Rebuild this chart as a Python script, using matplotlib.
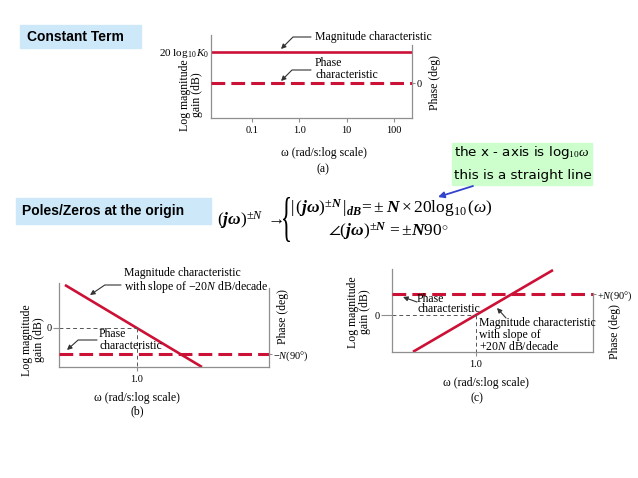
import matplotlib.pyplot as plt
from matplotlib.textpath import TextPath
from matplotlib.patches import PathPatch
from matplotlib.font_manager import FontProperties
from matplotlib.transforms import Affine2D

plt.rcParams['font.family'] = 'Liberation Serif'
plt.rcParams['mathtext.fontset'] = 'custom'
plt.rcParams['mathtext.rm'] = 'Liberation Serif'
plt.rcParams['mathtext.it'] = 'Liberation Serif:italic'
plt.rcParams['mathtext.bf'] = 'Liberation Serif:bold:italic'

# --- data ---
# (a) constant term
a_w = [0.0135, 240]
a_mag = [8, 8]
a_phase = [0, 0]
a_ticks = [0.1, 1, 10, 100]
a_ticklabels = ['0.1', '1.0', '10', '100']

# (b) poles at the origin (slope -20N dB/decade)
b_w = [0.063, 12.1]
b_mag = [23.9, -21.7]
b_phase_w = [0.05, 158]
b_phase = [-90, -90]

# (c) zeros at the origin (slope +20N dB/decade)
c_w = [0.089, 19.2]
c_mag = [-21.0, 25.7]
c_phase_w = [0.04, 89]
c_phase = [90, 90]

W, H = 638, 478
RED = '#cc1136'
GREY = '#8f8f8f'
FS = 8.5
TFS = 7.5

fig = plt.figure(figsize=(W / 100, H / 100), dpi=100)
PIX = Affine2D().scale(1 / W, 1 / H) + fig.transFigure


def box(l, t, r, b):
    return [l / W, 1 - b / H, (r - l) / W, (b - t) / H]


def ptext(x, y, s, **kw):
    fig.text(x / W, 1 - y / H, s, **kw)


def fpx(x, y):
    return (x, H - y)


def leader(tail, head, conn):
    fig.add_artist(plt.Annotation('', xy=fpx(*head), xytext=fpx(*tail),
                                  xycoords='figure pixels', textcoords='figure pixels',
                                  arrowprops=dict(arrowstyle='-|>', connectionstyle=conn,
                                                  color='#333333', lw=0.8, shrinkA=0,
                                                  shrinkB=0, mutation_scale=7)))


def setup(ax, tw, right_top):
    for s in ['top', 'right']:
        ax.spines[s].set_visible(False)
    for s in ['top', 'left', 'bottom']:
        tw.spines[s].set_visible(False)
    for sp in [ax.spines['left'], ax.spines['bottom'], tw.spines['right']]:
        sp.set_color(GREY)
        sp.set_linewidth(0.9)
    lo = tw.get_ylim()[0]
    tw.spines['right'].set_bounds(lo, right_top)
    ax.tick_params(axis='x', which='both', direction='out', length=3, width=0.8,
                   color=GREY, labelsize=TFS, pad=3)
    ax.tick_params(axis='x', which='minor', length=0)
    tw.tick_params(axis='y', length=2, width=0.8, color=GREY, labelsize=TFS, pad=1)


# ---------------- (a) ----------------
ax = fig.add_axes(box(211, 35, 412, 118))
ax.set_xscale('log')
ax.set_xlim(a_w)
ax.set_ylim(0, 10)
ax.plot(a_w, a_mag, color=RED, lw=1.9, solid_capstyle='butt')
ax.set_xticks(a_ticks)
ax.set_xticklabels(a_ticklabels)
ax.set_yticks([8])
ax.set_yticklabels([r'$20\ \log_{10}K_0$'])
ax.tick_params(axis='y', length=0, labelsize=8, pad=1)
tw = ax.twinx()
tw.set_ylim(-50, 70)
tw.plot(a_w, a_phase, color=RED, lw=2.2, ls=(0, (4.5, 2)))
tw.set_yticks([0])
tw.set_yticklabels(['0'])
setup(ax, tw, 55)

ptext(191, 95, 'Log magnitude\ngain (dB)', rotation=90, ha='center', va='center',
      fontsize=FS, multialignment='center', linespacing=0.95)
ptext(435, 83, 'Phase (deg)', rotation=90, ha='center', va='center', fontsize=FS)
ptext(324, 153, 'ω (rad/s:log scale)', ha='center', va='center', fontsize=FS)
ptext(323, 169, '(a)', ha='center', va='center', fontsize=FS)
ptext(315, 37, 'Magnitude characteristic', ha='left', va='center', fontsize=FS)
ptext(315, 69, 'Phase\ncharacteristic', ha='left', va='center', fontsize=FS,
      linespacing=0.95)
leader((311, 37), (281, 49), 'angle,angleA=0,angleB=45,rad=0')
leader((311, 70), (281, 81), 'angle,angleA=0,angleB=45,rad=0')

# ---------------- (b) ----------------
ax = fig.add_axes(box(59, 283, 269, 367))
ax.set_xscale('log')
ax.set_xlim(10 ** -1.3, 10 ** 2.2)
ax.set_ylim(-21.7, 25)
ax.plot(b_w, b_mag, color=RED, lw=1.9, solid_capstyle='butt')
ax.plot([ax.get_xlim()[0], 1], [0, 0], color='#555555', lw=0.7, ls=(0, (4, 3)))
ax.plot([1, 1], [0, -21.7], color='#555555', lw=0.7, ls=(0, (4, 3)), clip_on=False)
ax.set_xticks([1])
ax.set_xticklabels(['1.0'])
ax.set_yticks([0])
ax.set_yticklabels(['0'])
ax.tick_params(axis='y', length=4, width=0.8, color=GREY, labelsize=TFS, pad=1)
tw = ax.twinx()
tw.set_ylim(-110, 20)
tw.plot(b_phase_w, b_phase, color=RED, lw=2.2, ls=(0, (4.5, 2)))
tw.set_yticks([-90])
tw.set_yticklabels([r'$-N$(90°)'])
setup(ax, tw, 12)

ptext(33, 340, 'Log magnitude\ngain (dB)', rotation=90, ha='center', va='center',
      fontsize=FS, multialignment='center', linespacing=0.95)
ptext(283, 317, 'Phase (deg)', rotation=90, ha='center', va='center', fontsize=FS)
ptext(137, 398, 'ω (rad/s:log scale)', ha='center', va='center', fontsize=FS)
ptext(137, 411, '(b)', ha='center', va='center', fontsize=FS)
ptext(124, 281, 'Magnitude characteristic\nwith slope of $-20N$ dB/decade', ha='left',
      va='center', fontsize=FS, linespacing=0.95)
ptext(99, 340, 'Phase\ncharacteristic', ha='left', va='center', fontsize=FS,
      linespacing=0.95)
leader((121, 285), (90, 295), 'angle,angleA=0,angleB=34,rad=0')
leader((97, 340), (67, 350), 'angle,angleA=0,angleB=42,rad=0')

# ---------------- (c) ----------------
ax = fig.add_axes(box(392, 269, 593, 352))
ax.set_xscale('log')
ax.set_xlim(10 ** -1.4, 10 ** 1.95)
ax.set_ylim(-21.1, 26.3)
ax.plot(c_w, c_mag, color=RED, lw=1.9, solid_capstyle='butt')
ax.plot([ax.get_xlim()[0], 1], [0, 0], color='#555555', lw=0.7, ls=(0, (4, 3)))
ax.plot([1, 1], [0, -21.1], color='#555555', lw=0.7, ls=(0, (4, 3)), clip_on=False)
ax.set_xticks([1])
ax.set_xticklabels(['1.0'])
ax.set_yticks([0])
ax.set_yticklabels(['0'])
ax.tick_params(axis='y', length=8, width=0.8, color=GREY, labelsize=TFS, pad=1)
tw = ax.twinx()
tw.set_ylim(-40, 145)
tw.plot(c_phase_w, c_phase, color=RED, lw=2.2, ls=(0, (4.5, 2)))
tw.set_yticks([90])
tw.set_yticklabels([r'$+N$(90°)'])
setup(ax, tw, 92)

ptext(359, 312, 'Log magnitude\ngain (dB)', rotation=90, ha='center', va='center',
      fontsize=FS, multialignment='center', linespacing=0.95)
ptext(615, 332, 'Phase (deg)', rotation=90, ha='center', va='center', fontsize=FS)
ptext(486, 383, 'ω (rad/s:log scale)', ha='center', va='center', fontsize=FS)
ptext(477, 398, '(c)', ha='center', va='center', fontsize=FS)
ptext(417, 304, 'Phase\ncharacteristic', ha='left', va='center', fontsize=FS,
      linespacing=0.8)
ptext(479, 335, 'Magnitude characteristic\nwith slope of\n$+20N$ dB/decade', ha='left',
      va='center', fontsize=FS, linespacing=0.95)
leader((417, 302), (403, 297), 'arc3')
leader((506, 318), (497, 308), 'arc3')

# ---------------- slide text ----------------
ptext(27, 37, 'Constant Term', ha='left', va='center', fontsize=10,
      family='Liberation Sans', weight='bold')
fig.patches.append(plt.Rectangle((20, H - 48), 121, 23, transform=PIX,
                                 color='#cde9f9', zorder=-1))
ptext(22, 211, 'Poles/Zeros at the origin', ha='left', va='center', fontsize=10,
      family='Liberation Sans', weight='bold')
fig.patches.append(plt.Rectangle((16, H - 224), 195, 26, transform=PIX,
                                 color='#cde9f9', zorder=-1))

ptext(217, 220, r'$(\mathbf{j\omega})^{\pm N}\;\rightarrow$', ha='left', va='center',
      fontsize=12.5)
# thin brace: a '{' glyph stretched to the two-line height
tp = TextPath((0, 0), '{', size=1, prop=FontProperties(family='Liberation Serif'))
ext = tp.get_extents()
bx0, bx1, by0, by1 = 283, 290, 197, 242
tr = (Affine2D().translate(-ext.x0, -ext.y0)
      .scale((bx1 - bx0) / ext.width, (by1 - by0) / ext.height)
      .translate(bx0, H - by1))
fig.patches.append(PathPatch(tr.transform_path(tp), transform=PIX,
                             facecolor='black', edgecolor='none'))
ptext(290, 208, r'$|\,(\mathbf{j\omega})^{\pm \mathbf{N}}\,|_{\mathbf{dB}}\!=\!\pm\mathbf{N}\times 20\log_{10}(\omega)$',
      ha='left', va='center', fontsize=12.5)
ptext(328, 231, r'$\angle(\mathbf{j\omega})^{\pm \mathbf{N}}\, = \pm\mathbf{N}90^{\circ}$',
      ha='left', va='center', fontsize=12.5)

fig.patches.append(plt.Rectangle((452, H - 185), 140, 42, transform=PIX,
                                 color='#ccffcc', zorder=-1))
ptext(454, 153, r'the x - axis is log$_{10}\omega$', ha='left', va='center',
      fontsize=9.7, family='DejaVu Sans')
ptext(454, 175, 'this is a straight line', ha='left', va='center',
      fontsize=9.7, family='DejaVu Sans')
fig.add_artist(plt.Annotation('', xy=fpx(438, 197), xytext=fpx(473, 186),
                              xycoords='figure pixels', textcoords='figure pixels',
                              arrowprops=dict(arrowstyle='-|>', color='#3344cc', lw=1.3,
                                              shrinkA=0, shrinkB=0, mutation_scale=9)))

fig.savefig('out.png', dpi=100)
